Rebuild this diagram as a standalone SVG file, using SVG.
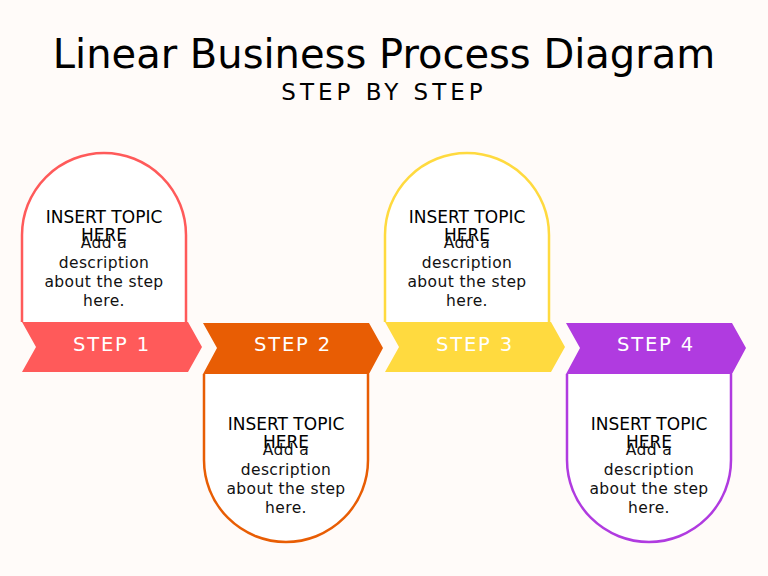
<svg xmlns="http://www.w3.org/2000/svg" width="768" height="576" viewBox="0 0 768 576">
<style>
text{font-family:"DejaVu Sans",sans-serif;text-anchor:middle}
.t{font-size:17px;fill:#000}
.d{font-size:15.5px;fill:#111;letter-spacing:0.4px}
.s{font-size:19.5px;fill:#fff;letter-spacing:1.8px}
.card{fill:#fff;stroke-width:2.5}
</style>
<rect width="768" height="576" fill="#FFFBF9"/>
<text x="384" y="68" style="font-size:40px;fill:#000">Linear Business Process Diagram</text>
<text x="384" y="100" style="font-size:23px;fill:#000;letter-spacing:4px">STEP BY STEP</text>
<g id="step1">
<path class="card" stroke="#FF5A5A" d="M22,322 V235 A82,82 0 0 1 186,235 V322"/>
<path fill="#FF5A5A" d="M22,322 H188 L202,347 L188,372 H22 L36,347 Z"/>
<text class="s" x="112" y="351">STEP 1</text>
<text class="t" x="104" y="223">INSERT TOPIC</text><text class="t" x="104" y="241">HERE</text>
<text class="d" x="104" y="248">Add a</text><text class="d" x="104" y="268">description</text><text class="d" x="104" y="287">about the step</text><text class="d" x="104" y="306">here.</text>
</g>
<g id="step2">
<path class="card" stroke="#E85D04" d="M204,374 V460 A82,82 0 0 0 368,460 V374"/>
<path fill="#E85D04" d="M203,323 H369 L383,348 L369,374 H203 L217,348 Z"/>
<text class="s" x="293" y="351">STEP 2</text>
<text class="t" x="286" y="430">INSERT TOPIC</text><text class="t" x="286" y="448">HERE</text>
<text class="d" x="286" y="455">Add a</text><text class="d" x="286" y="475">description</text><text class="d" x="286" y="494">about the step</text><text class="d" x="286" y="513">here.</text>
</g>
<g id="step3">
<path class="card" stroke="#FFDA3F" d="M385,322 V235 A82,82 0 0 1 549,235 V322"/>
<path fill="#FFDA3F" d="M385,322 H551 L565,347 L551,372 H385 L399,347 Z"/>
<text class="s" x="475" y="351">STEP 3</text>
<text class="t" x="467" y="223">INSERT TOPIC</text><text class="t" x="467" y="241">HERE</text>
<text class="d" x="467" y="248">Add a</text><text class="d" x="467" y="268">description</text><text class="d" x="467" y="287">about the step</text><text class="d" x="467" y="306">here.</text>
</g>
<g id="step4">
<path class="card" stroke="#B03BE0" d="M567,374 V460 A82,82 0 0 0 731,460 V374"/>
<path fill="#B03BE0" d="M566,323 H732 L746,348 L732,374 H566 L580,348 Z"/>
<text class="s" x="656" y="351">STEP 4</text>
<text class="t" x="649" y="430">INSERT TOPIC</text><text class="t" x="649" y="448">HERE</text>
<text class="d" x="649" y="455">Add a</text><text class="d" x="649" y="475">description</text><text class="d" x="649" y="494">about the step</text><text class="d" x="649" y="513">here.</text>
</g>
<g id="connectors"/>
</svg>
